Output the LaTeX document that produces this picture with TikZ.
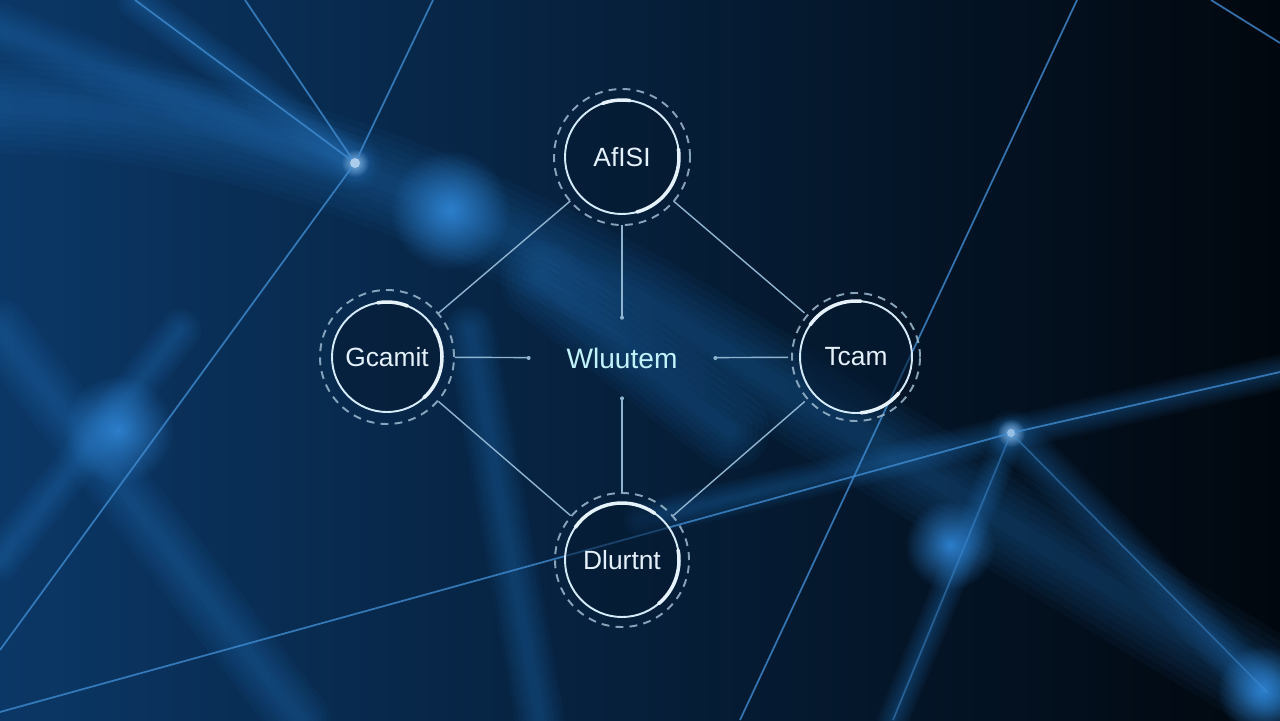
\documentclass[tikz,border=0pt]{standalone}
\usepackage{fontspec}
\setmainfont{Liberation Sans}
\usetikzlibrary{fadings}
\pgfdeclarelayer{bg}
\pgfsetlayers{bg,main}
\definecolor{bgL}{HTML}{0B3766}
\definecolor{bgM}{HTML}{041629}
\definecolor{bgR}{HTML}{01070E}
\definecolor{glowc}{HTML}{2C7FCC}
\definecolor{linec}{HTML}{3F8BD0}
\definecolor{ringc}{HTML}{D4EAF7}
\definecolor{dashc}{HTML}{9DBBD0}
\definecolor{connc}{HTML}{8FB4D0}
\definecolor{textc}{HTML}{E4F1FA}
\definecolor{innerc}{HTML}{051a31}
\tikzfading[name=glowfade, inner color=transparent!0, outer color=transparent!100]
\newcommand\softline[3]{%
  \foreach \f in {1,0.86,0.72,0.58,0.44,0.3,0.18}{%
    \draw[#1, line width=\f*#2, opacity=0.05, line cap=round] #3;}}
\newcommand\glowspot[3]{%
  \fill[#1, path fading=glowfade] #2 circle (#3);}
\newcommand\hubdeco[4]{% name, inner r, outer r, arcs
  \begin{scope}[shift={(#1.center)}, x=0.02cm, y=0.02cm]
    \fill[innerc, opacity=0.55] (0,0) circle (#2);
    \draw[ring] (0,0) circle (#2);
    \draw[dring] (0,0) circle (#3);
    \foreach \s/\e in {#4}{\draw[hl] (\s:#2) arc[start angle=\s, end angle=\e, radius=#2];}
  \end{scope}}
\tikzset{
  hub/.style={circle, minimum size=2.7cm, inner sep=0pt, text=textc,
    font=\fontsize{15}{15}\selectfont},
  mid/.style={rectangle, minimum width=3.72cm, minimum height=1.6cm, inner sep=0pt,
    text=textc!85!cyan, font=\fontsize{16}{16}\selectfont},
  ring/.style={draw=ringc, line width=1.1pt},
  dring/.style={draw=dashc, line width=1.1pt, dash pattern=on 4.5pt off 3.5pt, opacity=0.85},
  hl/.style={draw=ringc!60!white, line width=2pt, line cap=round},
  conn/.style={draw=connc, line width=0.8pt},
  bgline/.style={draw=linec, line width=1pt, opacity=0.8},
  enddot/.style={fill=connc},
}
\begin{document}
\begin{tikzpicture}[x=0.02cm, y=-0.02cm]
\useasboundingbox (0,0) rectangle (1280,720);
% hubs
\node[hub] (A) at (622,157) {AfISI};
\node[hub] (G) at (387,357) {Gcamit};
\node[hub] (T) at (856,357) {Tcam};
\node[hub] (D) at (622,560) {Dlurtnt};
\node[mid] (W) at (622,358) {Wluutem};
\begin{pgfonlayer}{bg}
\begin{scope}
\clip (0,0) rectangle (1280,720);
\shade[left color=bgL, middle color=bgM, right color=bgR] (0,0) rectangle (1280,720);
% soft bands
\softline{glowc}{55pt}{(0,105) .. controls (250,110) and (450,200) .. (640,300) -- (1280,690)}
\softline{glowc}{35pt}{(0,330) -- (300,720)}
\softline{glowc}{28pt}{(470,330) -- (540,720)}
\softline{glowc}{30pt}{(0,30) -- (355,163)}
\softline{glowc}{22pt}{(135,0) -- (355,163)}
\softline{glowc}{20pt}{(640,520) -- (1011,433) -- (1280,372)}
\softline{glowc}{26pt}{(1011,433) -- (1268,693)}
\softline{glowc}{18pt}{(1011,433) -- (893,720)}
\softline{glowc}{24pt}{(0,560) -- (180,330)}
\softline{glowc}{45pt}{(540,280) -- (730,430)}
% glow spots
\glowspot{glowc}{(450,210)}{60}
\glowspot{glowc}{(118,430)}{55}
\glowspot{glowc}{(950,545)}{45}
\glowspot{glowc}{(1262,690)}{45}
\glowspot{glowc!60!white}{(355,163)}{14}
\glowspot{glowc!60!white}{(1011,433)}{14}
% thin network lines
\draw[bgline] (135,0) -- (355,163);
\draw[bgline] (245,0) -- (355,163);
\draw[bgline] (433,0) -- (355,163);
\draw[bgline] (355,163) -- (0,650);
\draw[bgline] (0,712) -- (1011,433) -- (1280,372);
\draw[bgline] (1077,0) -- (740,720);
\draw[bgline, opacity=0.5] (1011,433) -- (893,720);
\draw[bgline, opacity=0.5] (1011,433) -- (1268,693);
\draw[bgline] (1211,0) -- (1280,43);
\fill[glowc!40!white] (355,163) circle (5);
\fill[glowc!50!white] (1011,433) circle (4);
\end{scope}
\hubdeco{A}{57}{68}{110/82, 8/-75}
\hubdeco{G}{55}{67}{100/68, 30/-48}
\hubdeco{T}{56}{64}{145/85, -40/-85}
\hubdeco{D}{57}{67}{145/55, 10/-50}
\end{pgfonlayer}
% connectors
\draw[conn] (A) -- (G);
\draw[conn] (A) -- (T);
\draw[conn] (G) -- (D);
\draw[conn] (T) -- (D);
\draw[conn] (A) -- (W);
\draw[conn] (G) -- (W);
\draw[conn] (T) -- (W);
\draw[conn] (D) -- (W);
\fill[enddot] (W.north) circle (2);
\fill[enddot] (W.west) circle (2);
\fill[enddot] (W.east) circle (2);
\fill[enddot] (W.south) circle (2);
\end{tikzpicture}
\end{document}
